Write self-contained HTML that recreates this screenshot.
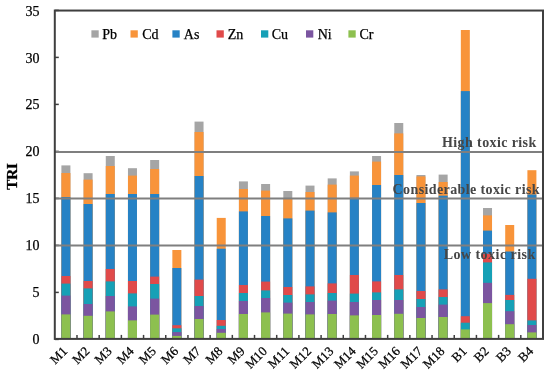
<!DOCTYPE html>
<html><head><meta charset="utf-8"><style>
html,body{margin:0;padding:0;background:#fff;}
svg{display:block;}
.t{font-family:"Liberation Serif",serif;font-size:14px;fill:#000;stroke:#000;stroke-width:0.25px;}
.xl{font-family:"Liberation Serif",serif;font-size:13px;fill:#000;stroke:#000;stroke-width:0.25px;}
.r{font-family:"Liberation Serif",serif;font-size:14px;font-weight:bold;fill:#464646;letter-spacing:0.39px;}
.ti{font-family:"Liberation Serif",serif;font-size:15px;font-weight:bold;fill:#000;stroke:#000;stroke-width:0.3px;}
</style></head><body>
<svg width="550" height="376" viewBox="0 0 550 376">
<rect width="550" height="376" fill="#fff"/>
<rect x="61.40" y="165.40" width="9.00" height="173.50" fill="#a5a5a5"/>
<rect x="61.40" y="173.00" width="9.00" height="165.90" fill="#f8943a"/>
<rect x="61.40" y="197.00" width="9.00" height="141.90" fill="#2682c5"/>
<rect x="61.40" y="276.00" width="9.00" height="62.90" fill="#e04a4a"/>
<rect x="61.40" y="283.60" width="9.00" height="55.30" fill="#16a0b6"/>
<rect x="61.40" y="295.60" width="9.00" height="43.30" fill="#7b55a0"/>
<rect x="61.40" y="314.40" width="9.00" height="24.50" fill="#8dc04f"/>
<rect x="83.59" y="173.20" width="9.00" height="165.70" fill="#a5a5a5"/>
<rect x="83.59" y="179.60" width="9.00" height="159.30" fill="#f8943a"/>
<rect x="83.59" y="204.00" width="9.00" height="134.90" fill="#2682c5"/>
<rect x="83.59" y="281.00" width="9.00" height="57.90" fill="#e04a4a"/>
<rect x="83.59" y="288.40" width="9.00" height="50.50" fill="#16a0b6"/>
<rect x="83.59" y="304.00" width="9.00" height="34.90" fill="#7b55a0"/>
<rect x="83.59" y="315.80" width="9.00" height="23.10" fill="#8dc04f"/>
<rect x="105.78" y="156.00" width="9.00" height="182.90" fill="#a5a5a5"/>
<rect x="105.78" y="166.00" width="9.00" height="172.90" fill="#f8943a"/>
<rect x="105.78" y="194.00" width="9.00" height="144.90" fill="#2682c5"/>
<rect x="105.78" y="269.00" width="9.00" height="69.90" fill="#e04a4a"/>
<rect x="105.78" y="281.40" width="9.00" height="57.50" fill="#16a0b6"/>
<rect x="105.78" y="296.00" width="9.00" height="42.90" fill="#7b55a0"/>
<rect x="105.78" y="311.40" width="9.00" height="27.50" fill="#8dc04f"/>
<rect x="127.97" y="168.20" width="9.00" height="170.70" fill="#a5a5a5"/>
<rect x="127.97" y="175.60" width="9.00" height="163.30" fill="#f8943a"/>
<rect x="127.97" y="194.00" width="9.00" height="144.90" fill="#2682c5"/>
<rect x="127.97" y="281.00" width="9.00" height="57.90" fill="#e04a4a"/>
<rect x="127.97" y="293.40" width="9.00" height="45.50" fill="#16a0b6"/>
<rect x="127.97" y="306.40" width="9.00" height="32.50" fill="#7b55a0"/>
<rect x="127.97" y="320.40" width="9.00" height="18.50" fill="#8dc04f"/>
<rect x="150.16" y="160.00" width="9.00" height="178.90" fill="#a5a5a5"/>
<rect x="150.16" y="169.00" width="9.00" height="169.90" fill="#f8943a"/>
<rect x="150.16" y="194.00" width="9.00" height="144.90" fill="#2682c5"/>
<rect x="150.16" y="276.60" width="9.00" height="62.30" fill="#e04a4a"/>
<rect x="150.16" y="284.00" width="9.00" height="54.90" fill="#16a0b6"/>
<rect x="150.16" y="298.60" width="9.00" height="40.30" fill="#7b55a0"/>
<rect x="150.16" y="314.60" width="9.00" height="24.30" fill="#8dc04f"/>
<rect x="172.35" y="250.00" width="9.00" height="88.90" fill="#f8943a"/>
<rect x="172.35" y="268.00" width="9.00" height="70.90" fill="#2682c5"/>
<rect x="172.35" y="325.20" width="9.00" height="13.70" fill="#e04a4a"/>
<rect x="172.35" y="328.30" width="9.00" height="10.60" fill="#16a0b6"/>
<rect x="172.35" y="332.10" width="9.00" height="6.80" fill="#7b55a0"/>
<rect x="172.35" y="335.90" width="9.00" height="3.00" fill="#8dc04f"/>
<rect x="194.54" y="121.60" width="9.00" height="217.30" fill="#a5a5a5"/>
<rect x="194.54" y="132.00" width="9.00" height="206.90" fill="#f8943a"/>
<rect x="194.54" y="176.00" width="9.00" height="162.90" fill="#2682c5"/>
<rect x="194.54" y="279.60" width="9.00" height="59.30" fill="#e04a4a"/>
<rect x="194.54" y="296.00" width="9.00" height="42.90" fill="#16a0b6"/>
<rect x="194.54" y="306.00" width="9.00" height="32.90" fill="#7b55a0"/>
<rect x="194.54" y="319.00" width="9.00" height="19.90" fill="#8dc04f"/>
<rect x="216.73" y="217.90" width="9.00" height="121.00" fill="#f8943a"/>
<rect x="216.73" y="248.70" width="9.00" height="90.20" fill="#2682c5"/>
<rect x="216.73" y="320.00" width="9.00" height="18.90" fill="#e04a4a"/>
<rect x="216.73" y="325.80" width="9.00" height="13.10" fill="#16a0b6"/>
<rect x="216.73" y="329.00" width="9.00" height="9.90" fill="#7b55a0"/>
<rect x="216.73" y="332.80" width="9.00" height="6.10" fill="#8dc04f"/>
<rect x="238.92" y="181.40" width="9.00" height="157.50" fill="#a5a5a5"/>
<rect x="238.92" y="189.00" width="9.00" height="149.90" fill="#f8943a"/>
<rect x="238.92" y="211.40" width="9.00" height="127.50" fill="#2682c5"/>
<rect x="238.92" y="285.00" width="9.00" height="53.90" fill="#e04a4a"/>
<rect x="238.92" y="293.00" width="9.00" height="45.90" fill="#16a0b6"/>
<rect x="238.92" y="301.00" width="9.00" height="37.90" fill="#7b55a0"/>
<rect x="238.92" y="314.00" width="9.00" height="24.90" fill="#8dc04f"/>
<rect x="261.11" y="184.00" width="9.00" height="154.90" fill="#a5a5a5"/>
<rect x="261.11" y="190.60" width="9.00" height="148.30" fill="#f8943a"/>
<rect x="261.11" y="216.00" width="9.00" height="122.90" fill="#2682c5"/>
<rect x="261.11" y="281.60" width="9.00" height="57.30" fill="#e04a4a"/>
<rect x="261.11" y="290.40" width="9.00" height="48.50" fill="#16a0b6"/>
<rect x="261.11" y="298.00" width="9.00" height="40.90" fill="#7b55a0"/>
<rect x="261.11" y="312.40" width="9.00" height="26.50" fill="#8dc04f"/>
<rect x="283.30" y="191.00" width="9.00" height="147.90" fill="#a5a5a5"/>
<rect x="283.30" y="198.00" width="9.00" height="140.90" fill="#f8943a"/>
<rect x="283.30" y="218.40" width="9.00" height="120.50" fill="#2682c5"/>
<rect x="283.30" y="287.00" width="9.00" height="51.90" fill="#e04a4a"/>
<rect x="283.30" y="295.00" width="9.00" height="43.90" fill="#16a0b6"/>
<rect x="283.30" y="302.60" width="9.00" height="36.30" fill="#7b55a0"/>
<rect x="283.30" y="313.60" width="9.00" height="25.30" fill="#8dc04f"/>
<rect x="305.50" y="185.60" width="9.00" height="153.30" fill="#a5a5a5"/>
<rect x="305.50" y="192.00" width="9.00" height="146.90" fill="#f8943a"/>
<rect x="305.50" y="210.60" width="9.00" height="128.30" fill="#2682c5"/>
<rect x="305.50" y="286.40" width="9.00" height="52.50" fill="#e04a4a"/>
<rect x="305.50" y="294.40" width="9.00" height="44.50" fill="#16a0b6"/>
<rect x="305.50" y="302.00" width="9.00" height="36.90" fill="#7b55a0"/>
<rect x="305.50" y="314.40" width="9.00" height="24.50" fill="#8dc04f"/>
<rect x="327.69" y="178.40" width="9.00" height="160.50" fill="#a5a5a5"/>
<rect x="327.69" y="184.60" width="9.00" height="154.30" fill="#f8943a"/>
<rect x="327.69" y="212.40" width="9.00" height="126.50" fill="#2682c5"/>
<rect x="327.69" y="283.40" width="9.00" height="55.50" fill="#e04a4a"/>
<rect x="327.69" y="293.00" width="9.00" height="45.90" fill="#16a0b6"/>
<rect x="327.69" y="300.60" width="9.00" height="38.30" fill="#7b55a0"/>
<rect x="327.69" y="314.00" width="9.00" height="24.90" fill="#8dc04f"/>
<rect x="349.88" y="171.40" width="9.00" height="167.50" fill="#a5a5a5"/>
<rect x="349.88" y="175.60" width="9.00" height="163.30" fill="#f8943a"/>
<rect x="349.88" y="197.80" width="9.00" height="141.10" fill="#2682c5"/>
<rect x="349.88" y="275.00" width="9.00" height="63.90" fill="#e04a4a"/>
<rect x="349.88" y="293.60" width="9.00" height="45.30" fill="#16a0b6"/>
<rect x="349.88" y="302.00" width="9.00" height="36.90" fill="#7b55a0"/>
<rect x="349.88" y="315.40" width="9.00" height="23.50" fill="#8dc04f"/>
<rect x="372.07" y="156.00" width="9.00" height="182.90" fill="#a5a5a5"/>
<rect x="372.07" y="161.60" width="9.00" height="177.30" fill="#f8943a"/>
<rect x="372.07" y="185.00" width="9.00" height="153.90" fill="#2682c5"/>
<rect x="372.07" y="281.40" width="9.00" height="57.50" fill="#e04a4a"/>
<rect x="372.07" y="292.40" width="9.00" height="46.50" fill="#16a0b6"/>
<rect x="372.07" y="300.00" width="9.00" height="38.90" fill="#7b55a0"/>
<rect x="372.07" y="315.00" width="9.00" height="23.90" fill="#8dc04f"/>
<rect x="394.26" y="123.00" width="9.00" height="215.90" fill="#a5a5a5"/>
<rect x="394.26" y="133.40" width="9.00" height="205.50" fill="#f8943a"/>
<rect x="394.26" y="175.00" width="9.00" height="163.90" fill="#2682c5"/>
<rect x="394.26" y="275.00" width="9.00" height="63.90" fill="#e04a4a"/>
<rect x="394.26" y="289.40" width="9.00" height="49.50" fill="#16a0b6"/>
<rect x="394.26" y="300.00" width="9.00" height="38.90" fill="#7b55a0"/>
<rect x="394.26" y="313.80" width="9.00" height="25.10" fill="#8dc04f"/>
<rect x="416.45" y="175.00" width="9.00" height="163.90" fill="#a5a5a5"/>
<rect x="416.45" y="176.40" width="9.00" height="162.50" fill="#f8943a"/>
<rect x="416.45" y="203.00" width="9.00" height="135.90" fill="#2682c5"/>
<rect x="416.45" y="291.00" width="9.00" height="47.90" fill="#e04a4a"/>
<rect x="416.45" y="299.00" width="9.00" height="39.90" fill="#16a0b6"/>
<rect x="416.45" y="307.00" width="9.00" height="31.90" fill="#7b55a0"/>
<rect x="416.45" y="318.00" width="9.00" height="20.90" fill="#8dc04f"/>
<rect x="438.64" y="174.60" width="9.00" height="164.30" fill="#a5a5a5"/>
<rect x="438.64" y="182.00" width="9.00" height="156.90" fill="#f8943a"/>
<rect x="438.64" y="195.70" width="9.00" height="143.20" fill="#2682c5"/>
<rect x="438.64" y="289.40" width="9.00" height="49.50" fill="#e04a4a"/>
<rect x="438.64" y="297.00" width="9.00" height="41.90" fill="#16a0b6"/>
<rect x="438.64" y="304.60" width="9.00" height="34.30" fill="#7b55a0"/>
<rect x="438.64" y="317.00" width="9.00" height="21.90" fill="#8dc04f"/>
<rect x="460.83" y="30.00" width="9.00" height="308.90" fill="#f8943a"/>
<rect x="460.83" y="91.10" width="9.00" height="247.80" fill="#2682c5"/>
<rect x="460.83" y="316.20" width="9.00" height="22.70" fill="#e04a4a"/>
<rect x="460.83" y="322.70" width="9.00" height="16.20" fill="#16a0b6"/>
<rect x="460.83" y="329.40" width="9.00" height="9.50" fill="#8dc04f"/>
<rect x="483.02" y="208.00" width="9.00" height="130.90" fill="#a5a5a5"/>
<rect x="483.02" y="215.40" width="9.00" height="123.50" fill="#f8943a"/>
<rect x="483.02" y="230.60" width="9.00" height="108.30" fill="#2682c5"/>
<rect x="483.02" y="253.80" width="9.00" height="85.10" fill="#e04a4a"/>
<rect x="483.02" y="262.40" width="9.00" height="76.50" fill="#16a0b6"/>
<rect x="483.02" y="282.80" width="9.00" height="56.10" fill="#7b55a0"/>
<rect x="483.02" y="303.10" width="9.00" height="35.80" fill="#8dc04f"/>
<rect x="505.21" y="225.00" width="9.00" height="113.90" fill="#f8943a"/>
<rect x="505.21" y="251.50" width="9.00" height="87.40" fill="#2682c5"/>
<rect x="505.21" y="294.90" width="9.00" height="44.00" fill="#e04a4a"/>
<rect x="505.21" y="300.00" width="9.00" height="38.90" fill="#16a0b6"/>
<rect x="505.21" y="311.20" width="9.00" height="27.70" fill="#7b55a0"/>
<rect x="505.21" y="324.20" width="9.00" height="14.70" fill="#8dc04f"/>
<rect x="527.40" y="170.20" width="9.00" height="168.70" fill="#f8943a"/>
<rect x="527.40" y="194.50" width="9.00" height="144.40" fill="#2682c5"/>
<rect x="527.40" y="278.80" width="9.00" height="60.10" fill="#e04a4a"/>
<rect x="527.40" y="320.40" width="9.00" height="18.50" fill="#16a0b6"/>
<rect x="527.40" y="325.00" width="9.00" height="13.90" fill="#7b55a0"/>
<rect x="527.40" y="332.40" width="9.00" height="6.50" fill="#8dc04f"/>
<line x1="54.8" y1="339.40" x2="58.8" y2="339.40" stroke="#3f3f3f" stroke-width="1.5"/>
<text x="39.5" y="344.00" text-anchor="end" class="t">0</text>
<line x1="54.8" y1="292.40" x2="58.8" y2="292.40" stroke="#3f3f3f" stroke-width="1.5"/>
<text x="39.5" y="297.09" text-anchor="end" class="t">5</text>
<line x1="54.8" y1="245.40" x2="58.8" y2="245.40" stroke="#3f3f3f" stroke-width="1.5"/>
<text x="39.5" y="250.19" text-anchor="end" class="t">10</text>
<line x1="54.8" y1="198.40" x2="58.8" y2="198.40" stroke="#3f3f3f" stroke-width="1.5"/>
<text x="39.5" y="203.28" text-anchor="end" class="t">15</text>
<line x1="54.8" y1="151.40" x2="58.8" y2="151.40" stroke="#3f3f3f" stroke-width="1.5"/>
<text x="39.5" y="156.37" text-anchor="end" class="t">20</text>
<line x1="54.8" y1="104.40" x2="58.8" y2="104.40" stroke="#3f3f3f" stroke-width="1.5"/>
<text x="39.5" y="109.46" text-anchor="end" class="t">25</text>
<line x1="54.8" y1="57.40" x2="58.8" y2="57.40" stroke="#3f3f3f" stroke-width="1.5"/>
<text x="39.5" y="62.56" text-anchor="end" class="t">30</text>
<line x1="54.8" y1="10.40" x2="58.8" y2="10.40" stroke="#3f3f3f" stroke-width="1.5"/>
<text x="39.5" y="15.65" text-anchor="end" class="t">35</text>
<line x1="76.99" y1="338.9" x2="76.99" y2="334.9" stroke="#3f3f3f" stroke-width="1.5"/>
<line x1="99.18" y1="338.9" x2="99.18" y2="334.9" stroke="#3f3f3f" stroke-width="1.5"/>
<line x1="121.37" y1="338.9" x2="121.37" y2="334.9" stroke="#3f3f3f" stroke-width="1.5"/>
<line x1="143.56" y1="338.9" x2="143.56" y2="334.9" stroke="#3f3f3f" stroke-width="1.5"/>
<line x1="165.75" y1="338.9" x2="165.75" y2="334.9" stroke="#3f3f3f" stroke-width="1.5"/>
<line x1="187.95" y1="338.9" x2="187.95" y2="334.9" stroke="#3f3f3f" stroke-width="1.5"/>
<line x1="210.14" y1="338.9" x2="210.14" y2="334.9" stroke="#3f3f3f" stroke-width="1.5"/>
<line x1="232.33" y1="338.9" x2="232.33" y2="334.9" stroke="#3f3f3f" stroke-width="1.5"/>
<line x1="254.52" y1="338.9" x2="254.52" y2="334.9" stroke="#3f3f3f" stroke-width="1.5"/>
<line x1="276.71" y1="338.9" x2="276.71" y2="334.9" stroke="#3f3f3f" stroke-width="1.5"/>
<line x1="298.90" y1="338.9" x2="298.90" y2="334.9" stroke="#3f3f3f" stroke-width="1.5"/>
<line x1="321.09" y1="338.9" x2="321.09" y2="334.9" stroke="#3f3f3f" stroke-width="1.5"/>
<line x1="343.28" y1="338.9" x2="343.28" y2="334.9" stroke="#3f3f3f" stroke-width="1.5"/>
<line x1="365.47" y1="338.9" x2="365.47" y2="334.9" stroke="#3f3f3f" stroke-width="1.5"/>
<line x1="387.66" y1="338.9" x2="387.66" y2="334.9" stroke="#3f3f3f" stroke-width="1.5"/>
<line x1="409.85" y1="338.9" x2="409.85" y2="334.9" stroke="#3f3f3f" stroke-width="1.5"/>
<line x1="432.05" y1="338.9" x2="432.05" y2="334.9" stroke="#3f3f3f" stroke-width="1.5"/>
<line x1="454.24" y1="338.9" x2="454.24" y2="334.9" stroke="#3f3f3f" stroke-width="1.5"/>
<line x1="476.43" y1="338.9" x2="476.43" y2="334.9" stroke="#3f3f3f" stroke-width="1.5"/>
<line x1="498.62" y1="338.9" x2="498.62" y2="334.9" stroke="#3f3f3f" stroke-width="1.5"/>
<line x1="520.81" y1="338.9" x2="520.81" y2="334.9" stroke="#3f3f3f" stroke-width="1.5"/>
<line x1="54.8" y1="151.90" x2="543.0" y2="151.90" stroke="#7f7f7f" stroke-width="2"/>
<line x1="54.8" y1="198.50" x2="543.0" y2="198.50" stroke="#7f7f7f" stroke-width="2"/>
<line x1="54.8" y1="245.50" x2="543.0" y2="245.50" stroke="#7f7f7f" stroke-width="2"/>
<rect x="54.8" y="10.55" width="488.2" height="328.34999999999997" fill="none" stroke="#3f3f3f" stroke-width="2"/>
<text x="0" y="0" text-anchor="end" class="xl" transform="translate(68.10,352.00) rotate(-45)">M1</text>
<text x="0" y="0" text-anchor="end" class="xl" transform="translate(90.29,352.00) rotate(-45)">M2</text>
<text x="0" y="0" text-anchor="end" class="xl" transform="translate(112.48,352.00) rotate(-45)">M3</text>
<text x="0" y="0" text-anchor="end" class="xl" transform="translate(134.67,352.00) rotate(-45)">M4</text>
<text x="0" y="0" text-anchor="end" class="xl" transform="translate(156.86,352.00) rotate(-45)">M5</text>
<text x="0" y="0" text-anchor="end" class="xl" transform="translate(179.05,352.00) rotate(-45)">M6</text>
<text x="0" y="0" text-anchor="end" class="xl" transform="translate(201.24,352.00) rotate(-45)">M7</text>
<text x="0" y="0" text-anchor="end" class="xl" transform="translate(223.43,352.00) rotate(-45)">M8</text>
<text x="0" y="0" text-anchor="end" class="xl" transform="translate(245.62,352.00) rotate(-45)">M9</text>
<text x="0" y="0" text-anchor="end" class="xl" transform="translate(267.81,352.00) rotate(-45)">M10</text>
<text x="0" y="0" text-anchor="end" class="xl" transform="translate(290.00,352.00) rotate(-45)">M11</text>
<text x="0" y="0" text-anchor="end" class="xl" transform="translate(312.20,352.00) rotate(-45)">M12</text>
<text x="0" y="0" text-anchor="end" class="xl" transform="translate(334.39,352.00) rotate(-45)">M13</text>
<text x="0" y="0" text-anchor="end" class="xl" transform="translate(356.58,352.00) rotate(-45)">M14</text>
<text x="0" y="0" text-anchor="end" class="xl" transform="translate(378.77,352.00) rotate(-45)">M15</text>
<text x="0" y="0" text-anchor="end" class="xl" transform="translate(400.96,352.00) rotate(-45)">M16</text>
<text x="0" y="0" text-anchor="end" class="xl" transform="translate(423.15,352.00) rotate(-45)">M17</text>
<text x="0" y="0" text-anchor="end" class="xl" transform="translate(445.34,352.00) rotate(-45)">M18</text>
<text x="0" y="0" text-anchor="end" class="xl" transform="translate(467.53,352.00) rotate(-45)">B1</text>
<text x="0" y="0" text-anchor="end" class="xl" transform="translate(489.72,352.00) rotate(-45)">B2</text>
<text x="0" y="0" text-anchor="end" class="xl" transform="translate(511.91,352.00) rotate(-45)">B3</text>
<text x="0" y="0" text-anchor="end" class="xl" transform="translate(534.10,352.00) rotate(-45)">B4</text>
<text x="536.6" y="147" text-anchor="end" class="r">High toxic risk</text>
<text x="540" y="194.1" text-anchor="end" class="r">Considerable toxic risk</text>
<text x="535.8" y="258.5" text-anchor="end" class="r" style="letter-spacing:0.47px">Low toxic risk</text>
<text x="0" y="0" text-anchor="middle" class="ti" transform="translate(16.5,176.5) rotate(-90)">TRI</text>
<rect x="91.4" y="30.3" width="7.3" height="7.3" fill="#a5a5a5"/>
<text x="102.25" y="38.7" class="t">Pb</text>
<rect x="130.5" y="30.3" width="7.3" height="7.3" fill="#f8943a"/>
<text x="142.15" y="38.7" class="t">Cd</text>
<rect x="172.4" y="30.3" width="7.3" height="7.3" fill="#2682c5"/>
<text x="183.80" y="38.7" class="t">As</text>
<rect x="216.5" y="30.3" width="7.3" height="7.3" fill="#e04a4a"/>
<text x="227.80" y="38.7" class="t">Zn</text>
<rect x="261.0" y="30.3" width="7.3" height="7.3" fill="#16a0b6"/>
<text x="271.65" y="38.7" class="t">Cu</text>
<rect x="306.0" y="30.3" width="7.3" height="7.3" fill="#7b55a0"/>
<text x="317.70" y="38.7" class="t">Ni</text>
<rect x="348.4" y="30.3" width="7.3" height="7.3" fill="#8dc04f"/>
<text x="359.40" y="38.7" class="t">Cr</text>
</svg>
</body></html>
